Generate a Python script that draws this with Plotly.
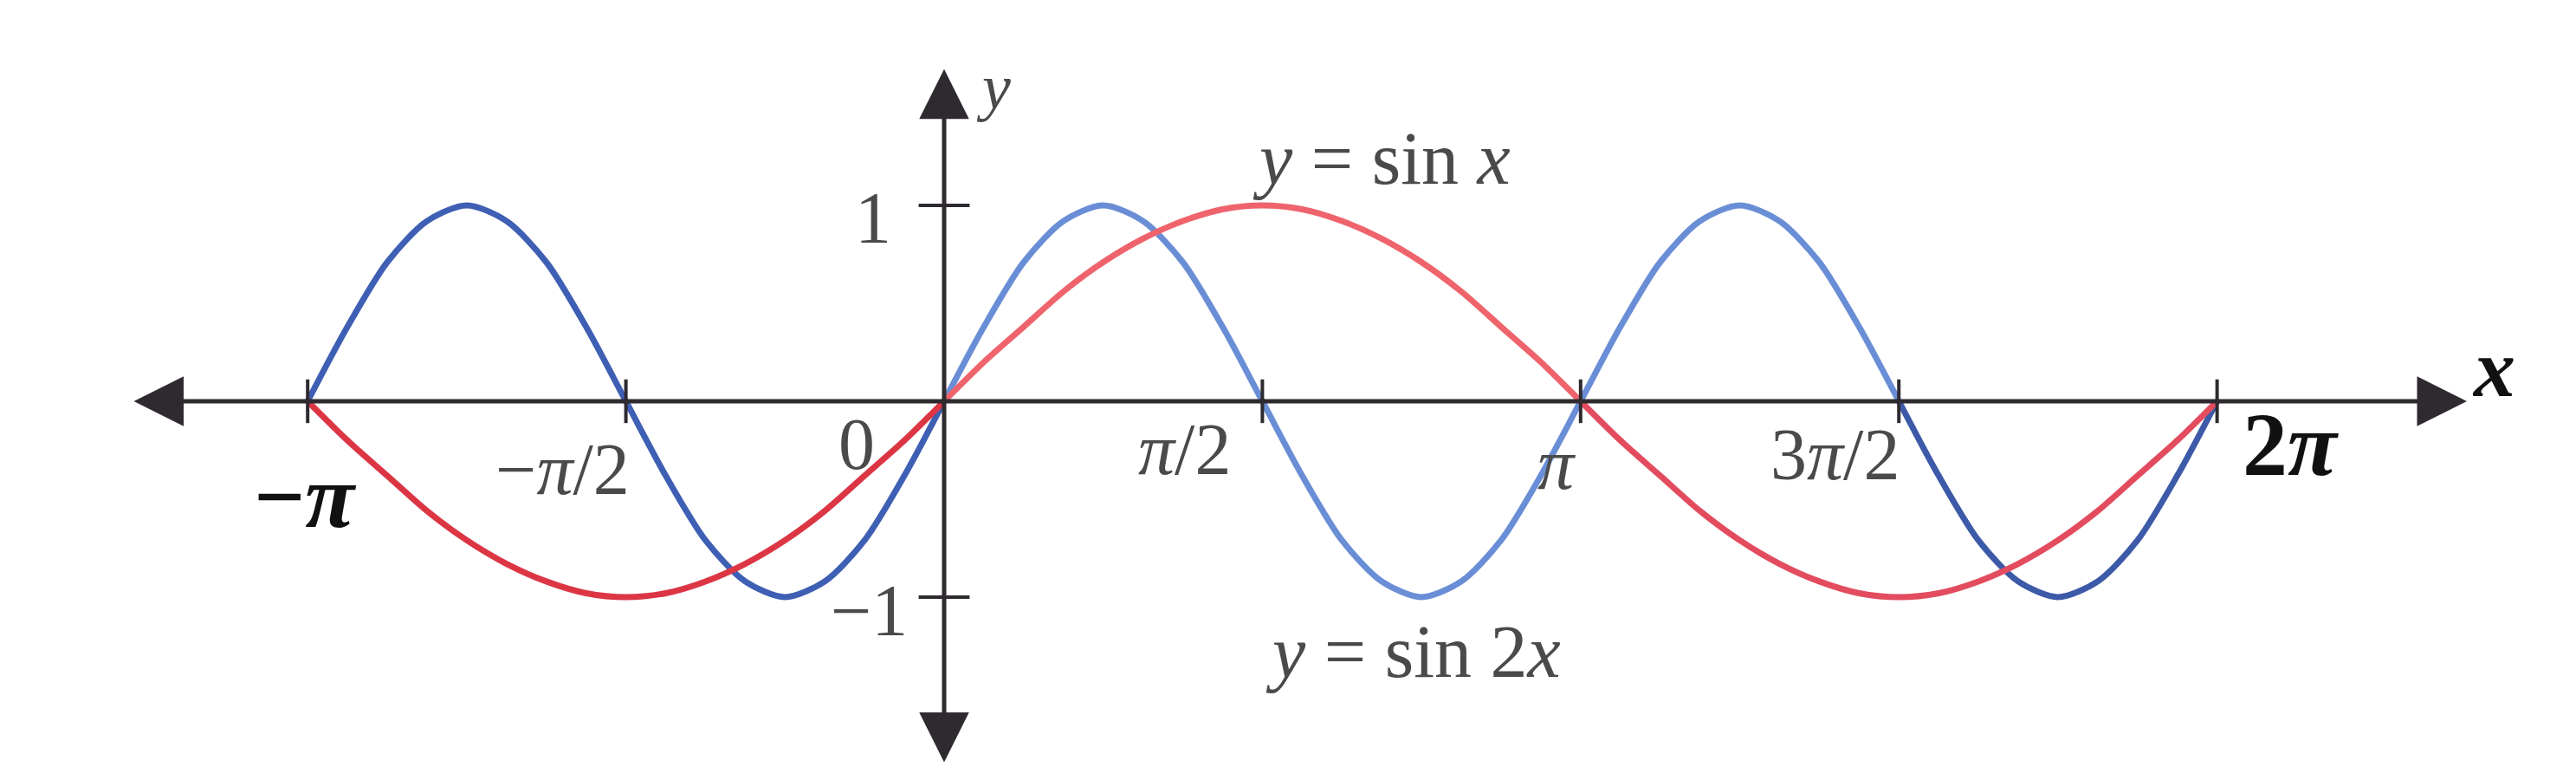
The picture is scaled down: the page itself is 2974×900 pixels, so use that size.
import numpy as np
import plotly.graph_objects as go

# x positions in sixteenths of pi
steps = list(range(-16, 33))
sin_x_vals = [0.00, -0.20, -0.38, -0.56, -0.71, -0.83, -0.92, -0.98, -1.00,
              -0.98, -0.92, -0.83, -0.71, -0.56, -0.38, -0.20, 0.00,
              0.20, 0.38, 0.56, 0.71, 0.83, 0.92, 0.98, 1.00,
              0.98, 0.92, 0.83, 0.71, 0.56, 0.38, 0.20, 0.00,
              -0.20, -0.38, -0.56, -0.71, -0.83, -0.92, -0.98, -1.00,
              -0.98, -0.92, -0.83, -0.71, -0.56, -0.38, -0.20, 0.00]
sin_2x_vals = [0.00, 0.38, 0.71, 0.92, 1.00, 0.92, 0.71, 0.38, 0.00,
               -0.38, -0.71, -0.92, -1.00, -0.92, -0.71, -0.38, 0.00,
               0.38, 0.71, 0.92, 1.00, 0.92, 0.71, 0.38, 0.00,
               -0.38, -0.71, -0.92, -1.00, -0.92, -0.71, -0.38, 0.00,
               0.38, 0.71, 0.92, 1.00, 0.92, 0.71, 0.38, 0.00,
               -0.38, -0.71, -0.92, -1.00, -0.92, -0.71, -0.38, 0.00]

x_tick_steps = [-16, -8, 8, 16, 24, 32]
x_tick_text = ["−<i>π</i>", "−<i>π</i>/2", "<i>π</i>/2", "<i>π</i>", "3<i>π</i>/2", "2<i>π</i>"]
y_tick_vals = [1, -1]
y_tick_text = ["1", "−1"]

x = np.array(steps) * np.pi / 16
x_ticks = np.array(x_tick_steps) * np.pi / 16

AXIS = "#2e2a30"
LABEL = "#4a4a4a"
FONT = "Liberation Serif"

fig = go.Figure()

# curve pieces: (first step, last step, colour) - the scan shades vary along each line
blue_pieces = [(-16, 0, "#3e5fb3"), (0, 24, "#6a8ed6"), (24, 32, "#3d5aa8")]
red_pieces = [(-16, 0, "#dc3645"), (0, 16, "#ef646c"), (16, 32, "#e34c5e")]

for pieces, vals in [(blue_pieces, sin_2x_vals), (red_pieces, sin_x_vals)]:
    for a, b, col in pieces:
        i0, i1 = steps.index(a), steps.index(b) + 1
        fig.add_trace(go.Scatter(
            x=x[i0:i1], y=vals[i0:i1], mode="lines",
            line=dict(color=col, width=7, shape="spline", smoothing=0.8),
            showlegend=False, hoverinfo="skip"))

# small tick marks crossing the axes
fig.add_trace(go.Scatter(
    x=x_ticks, y=[0] * len(x_ticks), mode="markers",
    marker=dict(symbol="line-ns", size=36, line=dict(color=AXIS, width=4)),
    showlegend=False, hoverinfo="skip"))
fig.add_trace(go.Scatter(
    x=[0] * len(y_tick_vals), y=y_tick_vals, mode="markers",
    marker=dict(symbol="line-ew", size=42, line=dict(color=AXIS, width=4)),
    showlegend=False, hoverinfo="skip"))

# axes with arrow heads at both ends
x_left, x_right = -4.006, 7.516
y_top, y_bottom = 1.695, -1.85
annotations = [
    dict(x=x_right, y=0, ax=x_left, ay=0, xref="x", yref="y", axref="x", ayref="y",
         text="", showarrow=True, arrowhead=2, arrowside="end+start",
         arrowsize=2.3, arrowwidth=5, arrowcolor=AXIS, standoff=0, startstandoff=0),
    dict(x=0, y=y_top, ax=0, ay=y_bottom, xref="x", yref="y", axref="x", ayref="y",
         text="", showarrow=True, arrowhead=2, arrowside="end+start",
         arrowsize=2.3, arrowwidth=5, arrowcolor=AXIS, standoff=0, startstandoff=0),
]

# tick labels (shift in pixels from the tick)
x_label_shift = [(-3, -110), (-73, -79), (-90, -56), (-27, -73), (-74, -62), (85, -50)]
for xv, txt, (dx, dy) in zip(x_ticks, x_tick_text, x_label_shift):
    strong = txt in ("−<i>π</i>", "2<i>π</i>")
    annotations.append(dict(
        x=xv, y=0, xref="x", yref="y", text=("<b>%s</b>" % txt) if strong else txt,
        showarrow=False, xshift=dx, yshift=dy,
        font=dict(family=FONT, size=104 if strong else 84, color="#111111" if strong else LABEL)))

y_label_shift = [(-82, -15), (-87, -16)]
for yv, txt, (dx, dy) in zip(y_tick_vals, y_tick_text, y_label_shift):
    annotations.append(dict(
        x=0, y=yv, xref="x", yref="y", text=txt, showarrow=False,
        xshift=dx, yshift=dy, font=dict(family=FONT, size=84, color=LABEL)))

annotations += [
    dict(x=0, y=0, xref="x", yref="y", text="0", showarrow=False,
         xshift=-101, yshift=-50, font=dict(family=FONT, size=84, color=LABEL)),
    dict(x=0, y=y_top, xref="x", yref="y", text="<i>y</i>", showarrow=False,
         xshift=57, yshift=-20, font=dict(family=FONT, size=74, color=LABEL)),
    dict(x=x_right, y=0, xref="x", yref="y", text="<b><i>x</i></b>", showarrow=False,
         xshift=31, yshift=38, font=dict(family=FONT, size=96, color="#111111")),
    dict(x=2.159, y=1.239, xref="x", yref="y", text="<i>y</i> = sin <i>x</i>",
         showarrow=False, font=dict(family=FONT, size=86, color=LABEL)),
    dict(x=2.317, y=-1.279, xref="x", yref="y", text="<i>y</i> = sin 2<i>x</i>",
         showarrow=False, font=dict(family=FONT, size=86, color=LABEL)),
]

fig.update_layout(
    width=2974, height=900,
    margin=dict(l=0, r=0, t=0, b=0),
    paper_bgcolor="white", plot_bgcolor="white",
    xaxis=dict(range=[-4.626, 8.089], visible=False, fixedrange=True),
    yaxis=dict(range=[-1.969, 2.013], visible=False, fixedrange=True),
    annotations=annotations,
    showlegend=False,
)

fig.write_html("out.html")
